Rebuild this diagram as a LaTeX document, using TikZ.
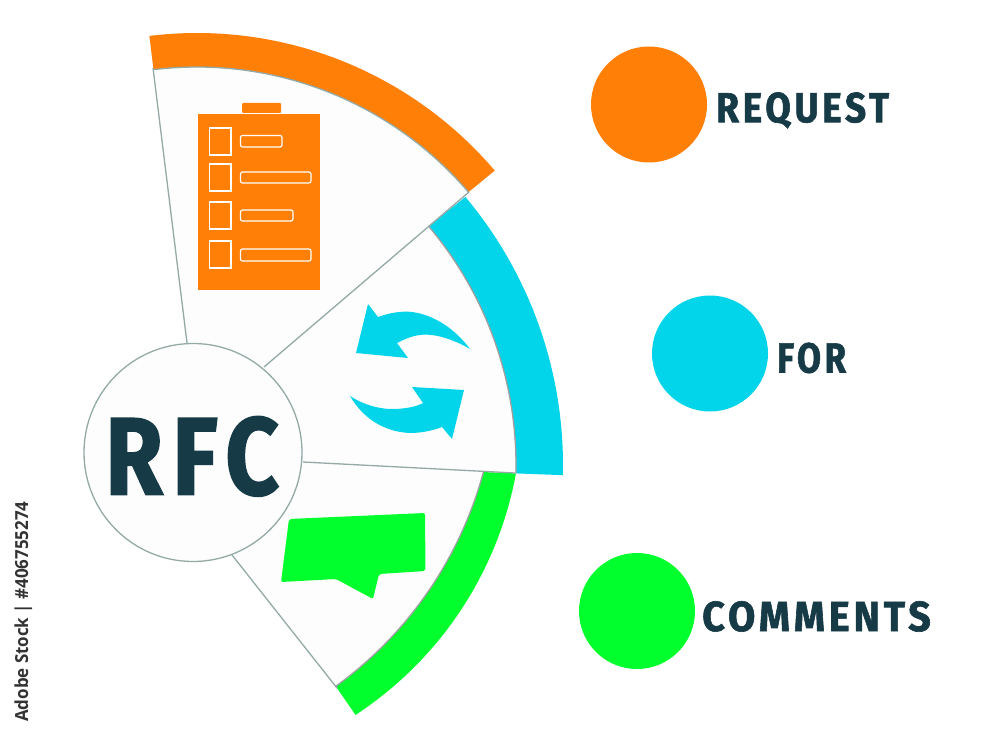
\documentclass[tikz,border=0pt]{standalone}
\usepackage{fontspec}
\setmainfont{Fira Sans}
\newfontfamily\idfont{Open Sans}
\definecolor{ink}{HTML}{163B47}
\definecolor{orangeC}{HTML}{FF7F07}
\definecolor{blueC}{HTML}{02D5EA}
\definecolor{greenC}{HTML}{01FF2D}
\definecolor{paperC}{HTML}{FDFDFD}
\definecolor{edgeC}{HTML}{93AAA6}
\tikzset{
  bandfill/.style={fill=#1,draw=none},
  edgeline/.style={draw=edgeC,line width=1.3pt},
  rimline/.style={draw=#1,line width=1.3pt},
  dotnode/.style={circle,fill=#1,draw=none,minimum size=116pt,inner sep=0pt},
  wordnode/.style={text=ink,font=\fontsize{42}{50}\selectfont\bfseries\addfontfeature{LetterSpace=10,FakeBold=1.5},inner sep=0pt,anchor=base west},
  clipbox/.style={draw=white,line width=1.2pt},
  clipbar/.style={draw=white,line width=1.2pt,rounded corners=2pt}
}
\begin{document}
\begin{tikzpicture}[x=1pt,y=-1pt]
\useasboundingbox (0,0) rectangle (1000,738);
\fill[white] (0,0) rectangle (1000,738);

% sector corners
\coordinate (a1) at (187,343);
\coordinate (a2) at (153,68);
\coordinate (b1) at (264,367);
\coordinate (b2) at (469,192);
\coordinate (c1) at (303,462);
\coordinate (c2) at (515,473);
\coordinate (d1) at (232,555);
\coordinate (d2) at (337,688);
\coordinate (g1) at (483,472);

% sector papers
\fill[paperC] (a1) -- plot[domain=-97:-40.5,samples=70] ({197+357*cos(\x)},{424+357*sin(\x)}) -- (b1) -- cycle;
\fill[paperC] (b1) -- plot[domain=-40.2:1.3,samples=70] ({146+370*cos(\x)},{465+370*sin(\x)}) -- (c1) -- cycle;
\fill[paperC] (c1) -- (g1) -- plot[domain=15.1:54,samples=70] ({106+391*cos(\x)},{370+391*sin(\x)}) -- (d2) -- (d1) -- cycle;

% coloured rims
\fill[bandfill=orangeC] plot[domain=-97:-40.4,samples=70] ({197+391*cos(\x)},{424+391*sin(\x)})
  -- plot[domain=-40.5:-97,samples=70] ({197+357*cos(\x)},{424+357*sin(\x)}) -- cycle;
\fill[bandfill=blueC] plot[domain=-40:1.4,samples=70] ({146+417*cos(\x)},{465+417*sin(\x)})
  -- plot[domain=1.3:-40.2,samples=70] ({146+370*cos(\x)},{465+370*sin(\x)}) -- cycle;
\fill[bandfill=greenC] plot[domain=10.4:56.8,samples=70] ({154+368*cos(\x)},{407+368*sin(\x)})
  -- (d2) -- plot[domain=54:15.1,samples=70] ({106+391*cos(\x)},{370+391*sin(\x)}) -- (g1) -- cycle;

% rim inner lines
\draw[rimline=edgeC] plot[domain=-97:-40.5,samples=70] ({197+357*cos(\x)},{424+357*sin(\x)});
\draw[rimline=gray!75] plot[domain=-40.2:1.3,samples=70] ({146+370*cos(\x)},{465+370*sin(\x)});
\draw[rimline=gray!75] (g1) -- plot[domain=15.1:54,samples=70] ({106+391*cos(\x)},{370+391*sin(\x)}) -- (d2);

% spokes
\draw[edgeline] (a1) -- (a2);
\draw[edgeline] (b1) -- (b2);
\draw[edgeline] (c1) -- (c2);
\draw[edgeline] (d1) -- (d2);

% hub
\node[circle,draw=edgeC,fill=paperC,line width=1.3pt,minimum size=218pt,inner sep=0pt] (hub) at (193,452.5) {};
\node[text=ink,inner sep=0pt,anchor=base west,xscale=0.85,font=\fontsize{110}{120}\selectfont\bfseries\addfontfeature{LetterSpace=10,FakeBold=1.5}] (rfc) at (105,494.5) {RFC};

% clipboard
\fill[orangeC] (198,114) rectangle (320,290);
\fill[orangeC,rounded corners=1pt] (242,103) rectangle (281,113);
\draw[clipbox] (209.5,128) rectangle (231,155);
\draw[clipbox] (209.5,164) rectangle (231,191);
\draw[clipbox] (209.5,202) rectangle (231,229);
\draw[clipbox] (209.5,241) rectangle (231,268);
\draw[clipbar] (240.5,135.5) rectangle (282,147);
\draw[clipbar] (240.5,172) rectangle (311,183);
\draw[clipbar] (240.5,210) rectangle (293,221);
\draw[clipbar] (240.5,249) rectangle (311,261);

% cycle arrows
\fill[blueC] (368,304) -- (378,317) .. controls (392,312) and (403,311) .. (412,312)
  .. controls (435,315) and (456,330) .. (470,349)
  .. controls (455,340) and (435,333) .. (420,335)
  .. controls (411,336) and (403,340) .. (397,343)
  -- (408,358) -- (356,353) -- cycle;
\fill[blueC] (350,396) .. controls (362,404) and (378,409) .. (392,409)
  .. controls (404,409) and (416,407) .. (423,403)
  -- (412,387) -- (464,390) -- (452,439) -- (442,427)
  .. controls (432,431) and (420,433) .. (410,433)
  .. controls (386,432) and (364,420) .. (350,396) -- cycle;

% speech bubble
\fill[greenC,rounded corners=2pt] (289,519) -- (425,513) -- (425.5,571) -- (379,574) -- (373,599) -- (336,579) -- (281,582) -- cycle;

% legend
\node[dotnode=orangeC] (dotR) at (649,104.5) {};
\node[dotnode=blueC] (dotF) at (710,353.5) {};
\node[dotnode=greenC] (dotC) at (637,611) {};
\node[wordnode,xscale=0.88] (wordR) at (716,122.2) {REQUEST};
\node[wordnode,xscale=0.83] (wordF) at (777,372.5) {FOR};
\node[wordnode,xscale=0.94] (wordC) at (702,631) {COMMENTS};

% stock id
\node[rotate=90,anchor=base west,inner sep=0pt,text=black!80,font=\idfont\fontsize{18}{20}\selectfont\bfseries] (stockid) at (28,722) {\scalebox{0.94}[1]{Adobe Stock | \#406755274}};
\end{tikzpicture}
\end{document}
